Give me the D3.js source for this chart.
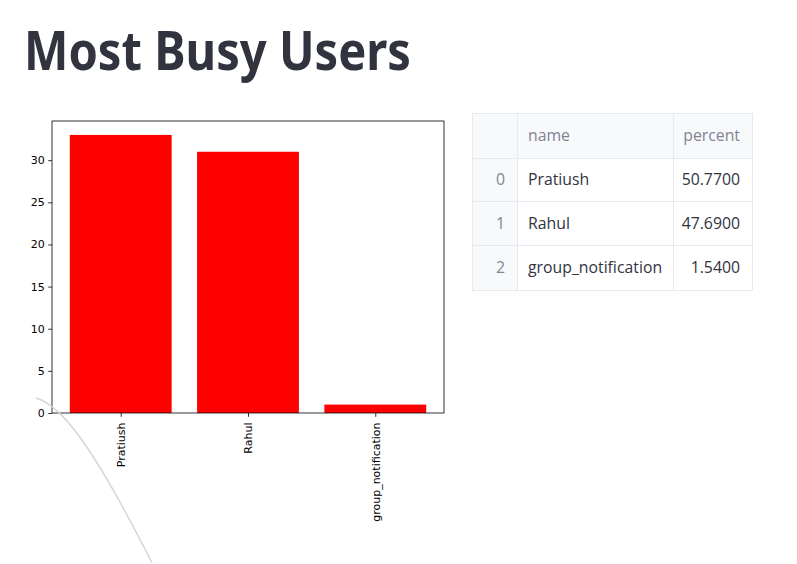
<!DOCTYPE html>
<html>
<head>
<meta charset="utf-8">
<script src="https://cdn.jsdelivr.net/npm/d3@7"></script>
<style>
  body { margin: 0; background: #fff; }
  svg { display: block; }
</style>
</head>
<body>
<div id="chart"></div>
<script>
// data
const users = ["Pratiush", "Rahul", "group_notification"];
const counts = [33, 31, 1];
const percents = [50.77, 47.69, 1.54];
const yTicks = [0, 5, 10, 15, 20, 25, 30];
const tableHeader = ["", "name", "percent"];

const W = 797, H = 564;
const svg = d3.select("#chart").append("svg").attr("width", W).attr("height", H);

// title
svg.append("text")
  .attr("x", 24).attr("y", 70)
  .attr("font-family", "'Noto Sans', sans-serif")
  .attr("font-weight", "bold")
  .attr("font-size", 53)
  .attr("fill", "#31333f")
  .attr("textLength", 387)
  .attr("lengthAdjust", "spacingAndGlyphs")
  .text("Most Busy Users");

// bar chart
const plot = { left: 52, right: 444, top: 121, bottom: 413 };
const x = d3.scaleLinear()
  .domain([-0.54, users.length - 1 + 0.54])
  .range([plot.left, plot.right]);
const y = d3.scaleLinear()
  .domain([0, d3.max(counts) * 1.05])
  .range([plot.bottom, plot.top]);

const g = svg.append("g");

g.selectAll("rect.bar")
  .data(users)
  .join("rect")
  .attr("class", "bar")
  .attr("x", (d, i) => x(i - 0.4))
  .attr("width", (d, i) => x(i + 0.4) - x(i - 0.4))
  .attr("y", (d, i) => y(counts[i]))
  .attr("height", (d, i) => y(0) - y(counts[i]))
  .attr("fill", "#ff0000");

// axes
const yAxis = g.append("g")
  .attr("transform", `translate(${plot.left},0)`)
  .call(d3.axisLeft(y).tickValues(yTicks).tickSize(3.8).tickPadding(3.5).tickSizeOuter(0));
const xAxis = g.append("g")
  .attr("transform", `translate(0,${plot.bottom})`)
  .call(d3.axisBottom(x).tickValues(d3.range(users.length)).tickFormat(i => users[i])
    .tickSize(3.8).tickSizeOuter(0));

[yAxis, xAxis].forEach(a => {
  a.select(".domain").remove();
  a.selectAll("line").attr("stroke", "#000").attr("stroke-width", 0.8);
  a.selectAll("text")
    .attr("font-family", "'DejaVu Sans', sans-serif")
    .attr("font-size", 11)
    .attr("fill", "#000");
});

xAxis.selectAll("text")
  .attr("transform", "rotate(-90)")
  .attr("text-anchor", "end")
  .attr("x", -9.5)
  .attr("y", 0)
  .attr("dy", "0.35em");

// frame
g.append("rect")
  .attr("x", plot.left).attr("y", plot.top)
  .attr("width", plot.right - plot.left)
  .attr("height", plot.bottom - plot.top)
  .attr("fill", "none")
  .attr("stroke", "#000")
  .attr("stroke-width", 0.8);

// stray grey curve in the screenshot
const p = d3.path();
p.moveTo(36, 398);
p.bezierCurveTo(60, 405, 90, 440, 152, 563);
svg.append("path")
  .attr("d", p.toString())
  .attr("fill", "none")
  .attr("stroke", "#d6d6d6")
  .attr("stroke-width", 1.5);

// table
const tx = [472, 517, 673, 752];
const rowY = [113, 158, 201, 245, 290];
const tbl = svg.append("g");

tbl.append("rect")
  .attr("x", tx[0]).attr("y", rowY[0])
  .attr("width", tx[3] - tx[0]).attr("height", rowY[1] - rowY[0])
  .attr("fill", "#f8f9fb");
tbl.append("rect")
  .attr("x", tx[0]).attr("y", rowY[1])
  .attr("width", tx[1] - tx[0]).attr("height", rowY[4] - rowY[1])
  .attr("fill", "#f8f9fb");

tbl.selectAll("line.h")
  .data(rowY)
  .join("line")
  .attr("x1", tx[0]).attr("x2", tx[3])
  .attr("y1", d => d + 0.5).attr("y2", d => d + 0.5)
  .attr("stroke", "#e6e9ef");
tbl.selectAll("line.v")
  .data(tx)
  .join("line")
  .attr("y1", rowY[0]).attr("y2", rowY[4])
  .attr("x1", d => d + 0.5).attr("x2", d => d + 0.5)
  .attr("stroke", "#e6e9ef");

const font = "'Open Sans', 'Noto Sans', sans-serif";
const fs = 15.8;

tbl.selectAll("text.hdr")
  .data(tableHeader)
  .join("text")
  .attr("x", (d, i) => i === 2 ? tx[3] - 12 : tx[i] + 11)
  .attr("y", (rowY[0] + rowY[1]) / 2)
  .attr("dy", "0.35em")
  .attr("text-anchor", (d, i) => i === 2 ? "end" : "start")
  .attr("font-family", font).attr("font-size", fs)
  .attr("fill", "#808495")
  .text(d => d);

const rows = tbl.selectAll("g.row")
  .data(users)
  .join("g")
  .attr("transform", (d, i) => `translate(0,${(rowY[i + 1] + rowY[i + 2]) / 2})`);

rows.append("text")
  .attr("x", tx[1] - 12).attr("dy", "0.35em")
  .attr("text-anchor", "end")
  .attr("font-family", font).attr("font-size", fs)
  .attr("fill", "#808495")
  .text((d, i) => i);
rows.append("text")
  .attr("x", tx[1] + 11).attr("dy", "0.35em")
  .attr("font-family", font).attr("font-size", fs)
  .attr("fill", "#31333f")
  .text(d => d);
rows.append("text")
  .attr("x", tx[3] - 12).attr("dy", "0.35em")
  .attr("text-anchor", "end")
  .attr("font-family", font).attr("font-size", fs)
  .attr("fill", "#31333f")
  .text((d, i) => percents[i].toFixed(4));
</script>
</body>
</html>
